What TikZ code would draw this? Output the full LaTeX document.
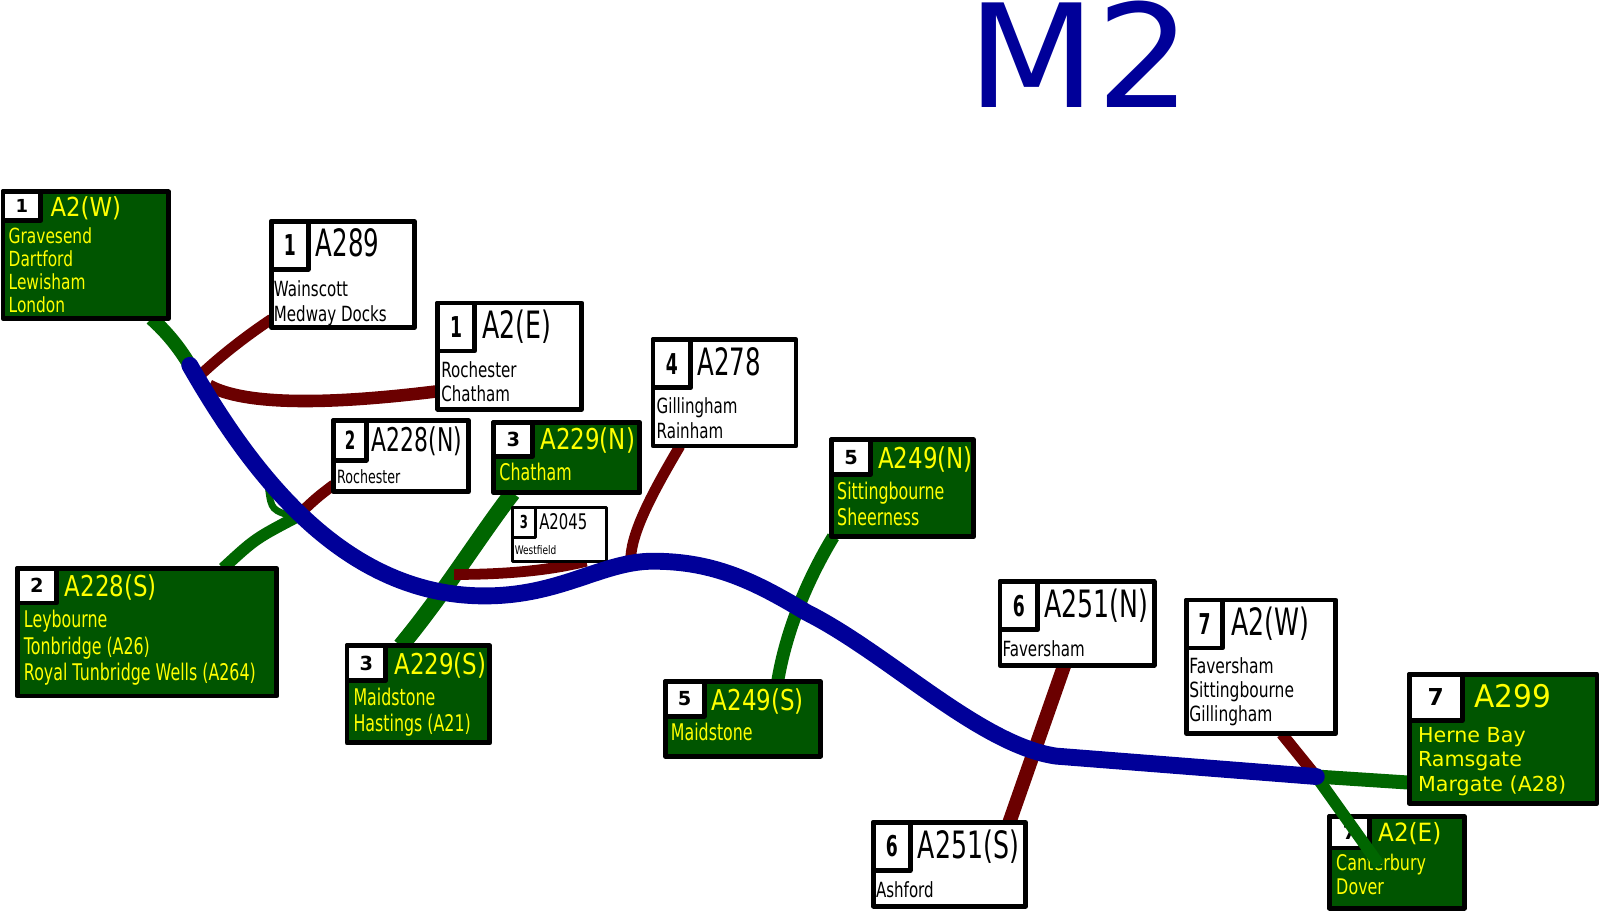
\documentclass[tikz,border=0pt]{standalone}
\usepackage{fontspec}
\usepackage{graphicx}
\setmainfont{DejaVu Sans}
\usetikzlibrary{backgrounds}
\definecolor{signgreen}{HTML}{005500}
\definecolor{slipgreen}{HTML}{006600}
\definecolor{slipred}{HTML}{6B0000}
\definecolor{motorblue}{HTML}{000099}
\definecolor{signyellow}{HTML}{FFFF00}
\tikzset{
  signbase/.style={draw=black,line width=1.35pt,line join=round,inner sep=0pt,outer sep=0pt,anchor=north west},
  greensign/.style={signbase,fill=signgreen},
  whitesign/.style={signbase,fill=white},
  numsign/.style={signbase,fill=white,font=\bfseries},
  signtxt/.style n args={3}{font=\fontsize{#1}{#2}\selectfont,xscale=#3,anchor=west,inner sep=0pt,align=left},
  onsign/.style={text=signyellow},
  slipg/.style={slipgreen,line width=3.9pt},
  slipr/.style={slipred,line width=3pt},
}
\begin{document}
\begin{tikzpicture}[x=0.01cm,y=-0.01cm]
\useasboundingbox (0,0) rectangle (1568,892);

\node[text=motorblue,font=\fontsize{40}{40}\selectfont,xscale=1.04] (title) at (1058,53) {M2};

% white signs
\node[whitesign,minimum width=1.40cm,minimum height=1.04cm] (a289) at (266,217) {};
\node[numsign,minimum width=.36cm,minimum height=.47cm,font=\bfseries\fontsize{8}{8}\selectfont] (a289num) at (266,217) {\scalebox{.6}[1]{1}};
\node[signtxt={10.5}{12}{.65}] (a289title) at (309,238) {A289};
\node[signtxt={5.83}{6.8}{.72}] (a289lines) at (268,297) {Wainscott\\Medway Docks};

\node[whitesign,minimum width=1.41cm,minimum height=1.04cm] (a2e) at (429,297) {};
\node[numsign,minimum width=.36cm,minimum height=.47cm,font=\bfseries\fontsize{8}{8}\selectfont] (a2enum) at (429,297) {\scalebox{.6}[1]{1}};
\node[signtxt={10.5}{12}{.67}] (a2etitle) at (472,320) {A2(E)};
\node[signtxt={5.83}{6.8}{.72}] (a2elines) at (432,374) {Rochester\\Chatham};

\node[whitesign,minimum width=1.40cm,minimum height=1.04cm] (a278) at (640,333) {};
\node[numsign,minimum width=.37cm,minimum height=.47cm,font=\bfseries\fontsize{8}{8}\selectfont] (a278num) at (640,333) {\scalebox{.6}[1]{4}};
\node[signtxt={10.5}{12}{.65}] (a278title) at (683,355) {A278};
\node[signtxt={5.83}{6.8}{.72}] (a278lines) at (643,410) {Gillingham\\Rainham};

\node[whitesign,minimum width=1.32cm,minimum height=.70cm] (a228n) at (327,412) {};
\node[numsign,minimum width=.32cm,minimum height=.39cm,font=\bfseries\fontsize{7}{7}\selectfont] (a228nnum) at (327,412) {\scalebox{.6}[1]{2}};
\node[signtxt={9.1}{11}{.67}] (a228ntitle) at (364,432) {A228(N)};
\node[signtxt={5.1}{6}{.69}] (a228nlines) at (330,467) {Rochester};

\node[whitesign,line width=.9pt,minimum width=.92cm,minimum height=.53cm] (a2045) at (502,497) {};
\node[numsign,line width=.9pt,minimum width=.23cm,minimum height=.30cm,font=\bfseries\fontsize{5}{5}\selectfont] (a2045num) at (502,497) {\scalebox{.65}[1]{3}};
\node[signtxt={6}{7}{.69}] (a2045title) at (528,511) {A2045};
\node[signtxt={3.3}{4}{.76}] (a2045lines) at (504,539) {Westfield};

\node[whitesign,minimum width=1.51cm,minimum height=.82cm] (a251n) at (980,570) {};
\node[numsign,minimum width=.37cm,minimum height=.47cm,font=\bfseries\fontsize{8}{8}\selectfont] (a251nnum) at (980,570) {\scalebox{.6}[1]{6}};
\node[signtxt={10.5}{12}{.67}] (a251ntitle) at (1023,594) {A251(N)};
\node[signtxt={5.83}{6.8}{.72}] (a251nlines) at (982,636) {Faversham};

\node[whitesign,minimum width=1.49cm,minimum height=.82cm] (a251s) at (856,806) {};
\node[numsign,minimum width=.36cm,minimum height=.47cm,font=\bfseries\fontsize{8}{8}\selectfont] (a251snum) at (856,806) {\scalebox{.6}[1]{6}};
\node[signtxt={10.5}{12}{.67}] (a251stitle) at (899,830) {A251(S)};
\node[signtxt={5.83}{6.8}{.72}] (a251slines) at (858,872) {Ashford};

\node[whitesign,minimum width=1.46cm,minimum height=1.31cm] (a2w) at (1163,588) {};
\node[numsign,minimum width=.35cm,minimum height=.47cm,font=\bfseries\fontsize{8}{8}\selectfont] (a2wnum) at (1163,588) {\scalebox{.6}[1]{7}};
\node[signtxt={10.5}{12}{.67}] (a2wtitle) at (1206,611) {A2(W)};
\node[signtxt={5.83}{6.8}{.74}] (a2wlines) at (1165,678) {Faversham\\Sittingbourne\\Gillingham};

% green signs
\node[greensign,minimum width=1.62cm,minimum height=1.24cm] (a2wg) at (3,188) {};
\node[numsign,minimum width=.37cm,minimum height=.28cm,font=\bfseries\fontsize{5}{5}\selectfont] (a2wgnum) at (3,188) {1};
\node[signtxt={7.3}{9}{.87},onsign] (a2wgtitle) at (49,204) {A2(W)};
\node[signtxt={5.8}{6.43}{.74},onsign] (a2wglines) at (8,265) {Gravesend\\Dartford\\Lewisham\\London};

\node[greensign,minimum width=1.43cm,minimum height=.69cm] (a229n) at (484,414) {};
\node[numsign,minimum width=.38cm,minimum height=.33cm,font=\bfseries\fontsize{5.4}{5.4}\selectfont] (a229nnum) at (484,414) {3};
\node[signtxt={8}{10}{.8},onsign] (a229ntitle) at (529,432) {A229(N)};
\node[signtxt={6.4}{7.4}{.69},onsign] (a229nlines) at (489,463) {Chatham};

\node[greensign,minimum width=1.39cm,minimum height=.95cm] (a249n) at (815,431) {};
\node[numsign,minimum width=.38cm,minimum height=.34cm,font=\bfseries\fontsize{5.4}{5.4}\selectfont] (a249nnum) at (815,431) {5};
\node[signtxt={8}{10}{.8},onsign] (a249ntitle) at (860,450) {A249(N)};
\node[signtxt={6.4}{7.4}{.69},onsign] (a249nlines) at (820,494) {Sittingbourne\\Sheerness};

\node[greensign,minimum width=2.54cm,minimum height=1.25cm] (a228s) at (17,557) {};
\node[numsign,minimum width=.38cm,minimum height=.34cm,font=\bfseries\fontsize{5.4}{5.4}\selectfont] (a228snum) at (17,557) {2};
\node[signtxt={8}{10}{.8},onsign] (a228stitle) at (63,576) {A228(S)};
\node[signtxt={6.4}{7.4}{.69},onsign] (a228slines) at (23,635) {Leybourne\\Tonbridge (A26)\\Royal Tunbridge Wells (A264)};

\node[greensign,minimum width=1.40cm,minimum height=.95cm] (a229s) at (340,633) {};
\node[numsign,minimum width=.38cm,minimum height=.34cm,font=\bfseries\fontsize{5.4}{5.4}\selectfont] (a229snum) at (340,633) {3};
\node[signtxt={8}{10}{.8},onsign] (a229stitle) at (386,652) {A229(S)};
\node[signtxt={6.4}{7.4}{.69},onsign] (a229slines) at (346,698) {Maidstone\\Hastings (A21)};

\node[greensign,minimum width=1.52cm,minimum height=.73cm] (a249s) at (652,668) {};
\node[numsign,minimum width=.38cm,minimum height=.34cm,font=\bfseries\fontsize{5.4}{5.4}\selectfont] (a249snum) at (652,668) {5};
\node[signtxt={8}{10}{.8},onsign] (a249stitle) at (697,687) {A249(S)};
\node[signtxt={6.4}{7.4}{.69},onsign] (a249slines) at (657,717) {Maidstone};

\node[greensign,minimum width=1.84cm,minimum height=1.26cm] (a299) at (1381,661) {};
\node[numsign,minimum width=.52cm,minimum height=.45cm,font=\bfseries\fontsize{6.5}{6.5}\selectfont] (a299num) at (1381,661) {7};
\node[signtxt={8.7}{10}{.95},onsign] (a299title) at (1444,682) {A299};
\node[signtxt={5.75}{6.83}{1},onsign] (a299lines) at (1389,746) {Herne Bay\\Ramsgate\\Margate (A28)};

\node[greensign,minimum width=1.32cm,minimum height=.90cm] (a2eg) at (1303,800) {};
\node[numsign,minimum width=.39cm,minimum height=.31cm,font=\bfseries\fontsize{5.4}{5.4}\selectfont] (a2egnum) at (1303,800) {7};
\node[signtxt={7}{9}{.92},onsign] (a2egtitle) at (1350,817) {A2(E)};
\node[signtxt={6}{6.83}{.74},onsign] (a2eglines) at (1309,857) {Canterbury\\Dover};

% junctions on the motorway
\coordinate (jstart) at (186,358);
\coordinate (j289) at (198,366);
\coordinate (j2e) at (205,378);
\coordinate (j228) at (290,507);
\coordinate (jhook) at (263,478);
\coordinate (j2045) at (445,563);
\coordinate (j278) at (618,550);
\coordinate (jend) at (1290,761);
\coordinate (a2eend) at (1352,848);

\begin{pgfonlayer}{background}
\draw[slipg] (a2wg.-44) .. controls (163,325) and (176,341) .. (jstart);
\draw[slipr] (a289.212) .. controls (240,330) and (215,350) .. (j289);
\draw[slipr,line width=3.5pt] (a2e.206) .. controls (320,397) and (240,397) .. (j2e);
\draw[slipr] (a228n.203) .. controls (310,488) .. (j228);
\draw[slipg,line width=3.3pt] (a228s.40) .. controls (250,528) .. (j228);
\draw[slipgreen,line width=1.9pt] (jhook) .. controls (266,500) .. (j228);
\draw[slipg,line width=4.6pt] (a229n.213) .. controls (470,525) and (435,582) .. (a229s.110);
\draw[slipr] (j2045) .. controls (490,563) and (535,560) .. (a2045.-45);
\draw[slipr] (a278.230) .. controls (635,490) and (618,525) .. (j278);
\draw[slipg,line width=3.6pt] (a249n.215) .. controls (790,570) and (770,620) .. (a249s.47);
\draw[slipr,line width=3.9pt] (a251n.253) -- (a251s.35.5);
\draw[slipr,line width=3.2pt] (a2w.-73) -- (jend);
\draw[slipg] (a299.205) -- (jend);
\end{pgfonlayer}

\draw[slipgreen,line width=3.3pt] (jend) -- (a2eend);

\draw[motorblue,line width=4.7pt,line cap=round] (jstart) .. controls (250,470) and (340,584) .. (475,584)
  .. controls (550,584) and (590,550) .. (640,550)
  .. controls (700,550) and (740,570) .. (790,600)
  .. controls (870,640) and (960,730) .. (1035,741) -- (jend);

\end{tikzpicture}
\end{document}
